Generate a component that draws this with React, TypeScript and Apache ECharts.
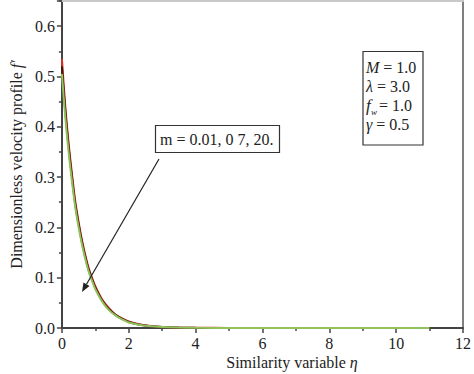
import React, { useEffect, useRef } from "react";
import * as echarts from "echarts";

const etaValues = [0, 0.1, 0.2, 0.3, 0.4, 0.5, 0.6, 0.7, 0.8, 0.9, 1.0, 1.2, 1.4, 1.6, 1.8, 2.0, 2.3, 2.6, 3.0, 3.5, 4.0, 5.0, 6.0, 7.0, 8.0, 9.0, 10.0, 11.0];
const redValues = [0.535, 0.442, 0.368, 0.307, 0.252, 0.211, 0.175, 0.145, 0.119, 0.1, 0.083, 0.057, 0.04, 0.027, 0.019, 0.013, 0.0075, 0.0045, 0.0022, 0.0011, 0.0005, 0.0001, 0, 0, 0, 0, 0, 0];
const blackValues = [0.52, 0.432, 0.36, 0.3, 0.246, 0.206, 0.171, 0.141, 0.116, 0.097, 0.08, 0.055, 0.038, 0.026, 0.018, 0.012, 0.007, 0.004, 0.002, 0.001, 0.0004, 0.0001, 0, 0, 0, 0, 0, 0];
const greenValues = [0.505, 0.42, 0.35, 0.292, 0.24, 0.2, 0.166, 0.137, 0.112, 0.094, 0.077, 0.053, 0.036, 0.025, 0.017, 0.011, 0.0065, 0.0038, 0.0019, 0.0009, 0.0004, 0.0001, 0, 0, 0, 0, 0, 0];
const xTicks = [0, 2, 4, 6, 8, 10, 12];
const yTicks = [0, 0.1, 0.2, 0.3, 0.4, 0.5, 0.6];

const FONT = "Liberation Serif";
const TXT = "#222";

export default function App() {
  const ref = useRef<HTMLDivElement>(null);
  useEffect(() => {
    if (!ref.current) return;
    const chart = echarts.init(ref.current, undefined, { renderer: "svg" });
    const pairs = (ys: number[]) => etaValues.map((x, i) => [x, ys[i]]);
    const lineSeries = (name: string, ys: number[], color: string) => ({
      name,
      type: "line",
      data: pairs(ys),
      smooth: 0.3,
      showSymbol: false,
      lineStyle: { color, width: 2 },
      z: 3,
    });
    const tail = [159, 159];
    const tip = [82, 292];
    const dx = tip[0] - tail[0];
    const dy = tip[1] - tail[1];
    const len = Math.sqrt(dx * dx + dy * dy);
    const ux = dx / len, uy = dy / len;
    const hl = 9, hw = 3.5;
    const bx = tip[0] - hl * ux, by = tip[1] - hl * uy;
    const px = -uy * hw, py = ux * hw;
    const rich = {
      i: { fontFamily: FONT, fontSize: 16, fill: TXT, fontStyle: "italic" },
      n: { fontFamily: FONT, fontSize: 16, fill: TXT },
    };

    chart.setOption({
      animation: false,
      textStyle: { fontFamily: FONT },
      grid: { left: 55, right: 9, top: 1, bottom: 46 },
      xAxis: [
        {
          type: "value",
          min: xTicks[0],
          max: xTicks[xTicks.length - 1],
          interval: 2,
          axisLine: { show: true, lineStyle: { color: "#444", width: 2 } },
          axisTick: { show: true, length: 5, lineStyle: { color: "#444", width: 1.5 } },
          minorTick: { show: true, splitNumber: 2, length: 3, lineStyle: { color: "#444", width: 1.5 } },
          splitLine: { show: false },
          axisLabel: { color: TXT, fontFamily: FONT, fontSize: 16, margin: 7 },
        },
        {
          type: "value",
          position: "top",
          min: 0,
          max: 12,
          axisLine: { show: true, onZero: false, lineStyle: { color: "#c8c8c8", width: 2 } },
          axisTick: { show: false },
          axisLabel: { show: false },
          splitLine: { show: false },
        },
      ],
      yAxis: [
        {
          type: "value",
          min: 0,
          max: 0.65,
          interval: 0.1,
          axisLine: { show: true, lineStyle: { color: "#444", width: 2 } },
          axisTick: { show: true, length: 5, lineStyle: { color: "#444", width: 1.5 } },
          minorTick: { show: true, splitNumber: 2, length: 3, lineStyle: { color: "#444", width: 1.5 } },
          splitLine: { show: false },
          axisLabel: {
            color: TXT,
            fontFamily: FONT,
            fontSize: 16,
            margin: 7,
            showMaxLabel: false,
            formatter: (v: number) => (yTicks.some((t) => Math.abs(t - v) < 1e-6) ? v.toFixed(1) : ""),
          },
          name: "{a|Dimensionless velocity profile }{b|f′}",
          nameLocation: "middle",
          nameGap: 30,
          nameTextStyle: {
            rich: {
              a: { fontFamily: FONT, fontSize: 16, color: TXT },
              b: { fontFamily: FONT, fontSize: 16, color: TXT, fontStyle: "italic" },
            },
          },
        },
        {
          type: "value",
          position: "right",
          min: 0,
          max: 0.65,
          axisLine: { show: true, onZero: false, lineStyle: { color: "#555", width: 1.5 } },
          axisTick: { show: false },
          axisLabel: { show: false },
          splitLine: { show: false },
        },
      ],
      series: [
        lineSeries("m=0.01", redValues, "#d9302a"),
        lineSeries("m=0.7", blackValues, "#3a1608"),
        lineSeries("m=20", greenValues, "#8fc25a"),
      ],
      graphic: [
        {
          type: "text",
          x: 292,
          y: 362,
          style: {
            text: "{n|Similarity variable }{i|η}",
            align: "center",
            verticalAlign: "middle",
            rich,
          },
        },
        {
          type: "rect",
          shape: { x: 155.5, y: 125.5, width: 124, height: 27 },
          style: { fill: "#fff", stroke: "#333", lineWidth: 1.2 },
          z: 10,
        },
        {
          type: "text",
          x: 160,
          y: 139,
          z: 11,
          style: { text: "m = 0.01, 0 7, 20.", fontFamily: FONT, fontSize: 16, fill: TXT, verticalAlign: "middle" },
        },
        {
          type: "line",
          shape: { x1: tail[0], y1: tail[1], x2: bx, y2: by },
          style: { stroke: "#222", lineWidth: 1.2 },
          z: 10,
        },
        {
          type: "polygon",
          shape: { points: [[tip[0], tip[1]], [bx + px, by + py], [bx - px, by - py]] },
          style: { fill: "#222" },
          z: 10,
        },
        {
          type: "rect",
          shape: { x: 363, y: 51.5, width: 60, height: 93.5 },
          style: { fill: "#fff", stroke: "#333", lineWidth: 1.2 },
          z: 10,
        },
        { type: "text", x: 366, y: 67, z: 11, style: { text: "{i|M}{n| = 1.0}", verticalAlign: "middle", rich } },
        { type: "text", x: 366, y: 86, z: 11, style: { text: "{i|λ}{n| = 3.0}", verticalAlign: "middle", rich } },
        {
          type: "text",
          x: 366,
          y: 105,
          z: 11,
          style: { text: "f", fontFamily: FONT, fontSize: 17, fontStyle: "italic", fill: TXT, verticalAlign: "middle" },
        },
        {
          type: "text",
          x: 371,
          y: 112,
          z: 11,
          style: { text: "w", fontFamily: FONT, fontSize: 9, fontStyle: "italic", fill: TXT, verticalAlign: "middle" },
        },
        {
          type: "text",
          x: 379,
          y: 105,
          z: 11,
          style: { text: "= 1.0", fontFamily: FONT, fontSize: 16, fill: TXT, verticalAlign: "middle" },
        },
        { type: "text", x: 366, y: 124, z: 11, style: { text: "{i|γ}{n| = 0.5}", verticalAlign: "middle", rich } },
      ],
    });
    return () => chart.dispose();
  }, []);
  return <div ref={ref} style={{ width: 474, height: 374, position: "absolute", left: 0, top: 0 }} />;
}
